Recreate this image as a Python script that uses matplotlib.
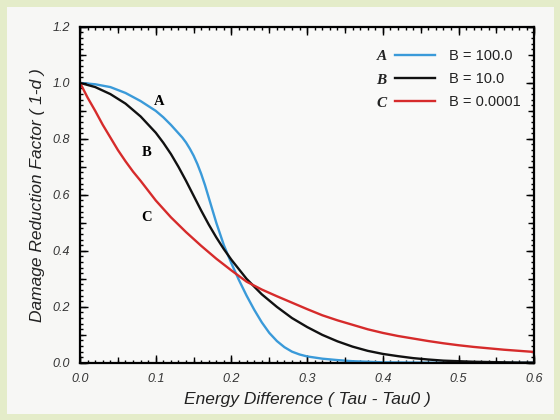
import matplotlib
matplotlib.use("Agg")
import matplotlib.pyplot as plt
from matplotlib.ticker import MultipleLocator, FormatStrFormatter

# values
x_a = [0.00, 0.02, 0.04, 0.06, 0.08, 0.10, 0.11, 0.12, 0.13, 0.135, 0.14, 0.145, 0.15, 0.155,
       0.16, 0.165, 0.17, 0.175, 0.18, 0.19, 0.20, 0.21, 0.22, 0.23, 0.24, 0.25,
       0.26, 0.27, 0.28, 0.29, 0.30, 0.32, 0.34, 0.36, 0.38, 0.40, 0.45, 0.50, 0.60]
y_a = [1.00, 0.995, 0.985, 0.964, 0.935, 0.90, 0.877, 0.85, 0.82, 0.805, 0.787, 0.765, 0.74, 0.71,
       0.675, 0.635, 0.59, 0.545, 0.50, 0.42, 0.355, 0.295, 0.24, 0.19, 0.145, 0.107,
       0.078, 0.056, 0.040, 0.030, 0.023, 0.015, 0.010, 0.006, 0.004, 0.002, 0.001, 0.0, 0.0]

x_b = [0.00, 0.02, 0.04, 0.06, 0.08, 0.10, 0.11, 0.12, 0.13, 0.14, 0.15, 0.16,
       0.17, 0.18, 0.19, 0.20, 0.22, 0.24, 0.26, 0.28, 0.30, 0.32, 0.34, 0.36,
       0.38, 0.40, 0.42, 0.44, 0.46, 0.48, 0.50, 0.52, 0.54, 0.56, 0.58, 0.60]
y_b = [1.00, 0.985, 0.96, 0.926, 0.88, 0.822, 0.786, 0.746, 0.70, 0.65, 0.597, 0.544,
       0.494, 0.448, 0.406, 0.368, 0.30, 0.245, 0.20, 0.16, 0.128, 0.10, 0.077, 0.058,
       0.043, 0.032, 0.024, 0.017, 0.012, 0.008, 0.006, 0.004, 0.003, 0.002, 0.001, 0.001]

x_c = [0.00, 0.01, 0.02, 0.03, 0.04, 0.05, 0.06, 0.07, 0.08, 0.09, 0.10, 0.12,
       0.14, 0.16, 0.18, 0.20, 0.22, 0.24, 0.26, 0.28, 0.30, 0.32, 0.34, 0.36,
       0.38, 0.40, 0.42, 0.44, 0.46, 0.48, 0.50, 0.52, 0.54, 0.56, 0.58, 0.60]
y_c = [1.00, 0.947, 0.90, 0.85, 0.805, 0.76, 0.72, 0.683, 0.65, 0.615, 0.58, 0.52,
       0.467, 0.418, 0.372, 0.33, 0.29, 0.262, 0.238, 0.215, 0.192, 0.17, 0.152, 0.136,
       0.12, 0.107, 0.096, 0.087, 0.078, 0.070, 0.063, 0.057, 0.052, 0.047, 0.043, 0.039]

letters = ["A", "B", "C"]
legend_labels = ["B = 100.0", "B = 10.0", "B = 0.0001"]
colors = ["#3a9ad9", "#111111", "#d62b2b"]

sans = "Liberation Sans"
serif = "Liberation Serif"

fig = plt.figure(figsize=(5.6, 4.2), dpi=100)
fig.patch.set_facecolor("#f7f7f5")
fig.patch.set_edgecolor("#e4ecc9")
fig.patch.set_linewidth(8)

ax = fig.add_axes([0.143, 0.136, 0.811, 0.800])
ax.set_facecolor("#f9f9f8")

lines = []
for xs, ys, c, lab in zip([x_a, x_b, x_c], [y_a, y_b, y_c], colors, legend_labels):
    ln, = ax.plot(xs, ys, color=c, lw=1.7, label=lab, solid_joinstyle="round")
    lines.append(ln)

ax.set_xlim(0, 0.6)
ax.set_ylim(0, 1.2)

ax.xaxis.set_major_locator(MultipleLocator(0.1))
ax.xaxis.set_minor_locator(MultipleLocator(0.01))
ax.yaxis.set_major_locator(MultipleLocator(0.2))
ax.yaxis.set_minor_locator(MultipleLocator(0.02))
ax.xaxis.set_major_formatter(FormatStrFormatter("%.1f"))
ax.yaxis.set_major_formatter(FormatStrFormatter("%.1f"))
ax.tick_params(which="both", direction="in", top=True, right=True, width=1.0)
ax.tick_params(which="major", length=6, pad=7, labelsize=9, labelcolor="#333333")
ax.tick_params(which="minor", length=2.5)
for lbl in ax.get_xticklabels() + ax.get_yticklabels():
    lbl.set_fontfamily(sans)
    lbl.set_fontstyle("italic")
for s in ax.spines.values():
    s.set_linewidth(1.6)

# medium ticks every 0.05 / 0.1
axm = fig.add_axes(ax.get_position(), frameon=False)
axm.set_xlim(0, 0.6)
axm.set_ylim(0, 1.2)
axm.set_xticks([i * 0.05 for i in range(13)])
axm.set_yticks([i * 0.1 for i in range(13)])
axm.tick_params(direction="in", top=True, right=True, length=4, width=1.0,
                labelbottom=False, labelleft=False)
axm.patch.set_visible(False)

ax.set_xlabel("Energy Difference ( Tau - Tau0 )", fontsize=12.5, family=sans,
              style="italic", color="#222222", labelpad=5)
ax.set_ylabel("Damage Reduction Factor ( 1-d )", fontsize=12.5, family=sans,
              style="italic", color="#222222", labelpad=6)

leg = ax.legend(handles=lines, loc="upper left", bbox_to_anchor=(0.694, 0.935),
                frameon=False, borderaxespad=0, borderpad=0, handlelength=2.7,
                handletextpad=1.0, labelspacing=0.62,
                prop={"family": sans, "size": 10.5})
for t in leg.get_texts():
    t.set_color("#222222")

for i, let in enumerate(letters):
    ax.text(0.675, 0.911 - i * 0.07, let, transform=ax.transAxes, ha="right",
            va="center", family=serif, style="italic", weight="bold", fontsize=11,
            color="#222222")

# curve labels
ax.text(0.105, 0.935, "A", family=serif, weight="bold", fontsize=10.5, ha="center", va="center")
ax.text(0.088, 0.75, "B", family=serif, weight="bold", fontsize=10.5, ha="center", va="center")
ax.text(0.088, 0.52, "C", family=serif, weight="bold", fontsize=10.5, ha="center", va="center")

fig.savefig("out.png", dpi=100, facecolor=fig.get_facecolor(), edgecolor=fig.get_edgecolor())
